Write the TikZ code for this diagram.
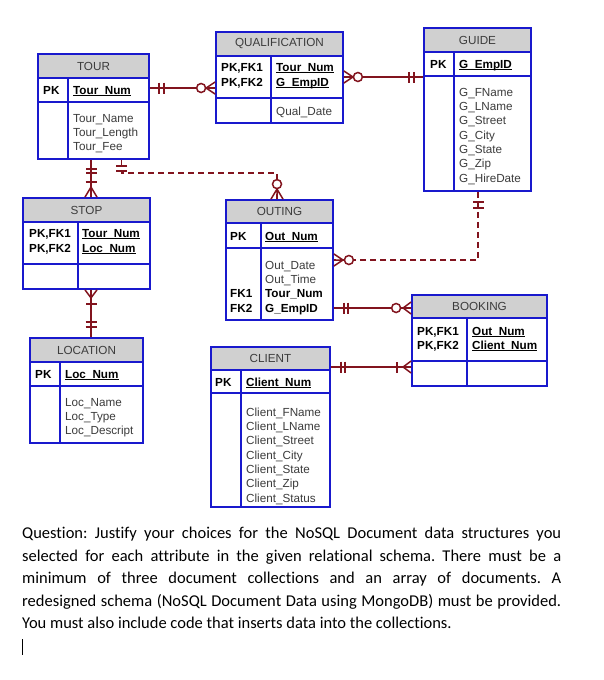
\documentclass[tikz,border=0pt]{standalone}
\usepackage{fontspec}
\newfontfamily\arialf{Liberation Sans}
\newfontfamily\calf[Ligatures=NoCommon]{Carlito}
\definecolor{entblue}{RGB}{25,25,205}
\definecolor{relred}{RGB}{130,20,30}
\definecolor{hdrgray}{RGB}{208,208,208}
\definecolor{attgray}{RGB}{60,60,60}
\newcommand\keyul[1]{\setbox0\hbox{#1}\rlap{\rule[-2.1pt]{\wd0}{0.9pt}}\box0}
\tikzset{
  entline/.style={draw=entblue, line width=1.8pt},
  entframe/.style={draw=entblue, line width=1.8pt, inner sep=0pt, rectangle},
  hdrfill/.style={fill=hdrgray},
  hdrtext/.style={inner sep=0pt, font=\arialf\fontsize{11.7}{14}\selectfont, text=attgray},
  keytext/.style={anchor=base west, inner sep=0pt, font=\arialf\bfseries\fontsize{11.7}{14}\selectfont},
  atttext/.style={anchor=base west, inner sep=0pt, font=\arialf\fontsize{11.7}{14}\selectfont, text=attgray},
  bodytext/.style={anchor=base west, inner sep=0pt, font=\calf\fontsize{16.5}{22}\selectfont\frenchspacing},
  rel/.style={draw=relred, line width=1.5pt},
  reldash/.style={rel, dash pattern=on 6pt off 4pt},
}
% entity: name, x1, y1, x2, y2, header bottom, key bottom, divider x, title
\newcommand\entbox[9]{%
  \fill[hdrfill] (#2,#3) rectangle (#4,#6);
  \draw[entline] (#2,#6) -- (#4,#6) (#2,#7) -- (#4,#7) (#8,#6) -- (#8,#5);
  \node[entframe, minimum width={#4pt-#2pt}, minimum height={#5pt-#3pt}] (#1) at ({(#2+#4)/2},{(#3+#5)/2}) {};
  \node[hdrtext] (#1-h) at ({(#2+#4)/2},{(#3+#6)/2}) {#9};
}
\newcommand\attlist[4]{% name, x, first baseline, list
  \foreach \t [count=\i] in {#4} {\node[atttext] (#1-a\i) at (#2,{#3+(\i-1)*14.3}) {\t};}
}
\newcommand\barsat[3]{%
  \begin{scope}[shift={#1}, rotate=#2]
    \foreach \d in {#3} {\draw[rel] (\d,-5.5) -- (\d,5.5);}
  \end{scope}}
\newcommand\crowat[3]{%
  \begin{scope}[shift={#1}, rotate=#2]
    \draw[rel] (0,-6) -- (#3,0) -- (0,6) (#3,0) -- (0,0);
  \end{scope}}
\newcommand\circat[3]{%
  \begin{scope}[shift={#1}, rotate=#2]
    \draw[rel, fill=white] (#3,0) circle (4.5);
  \end{scope}}
\begin{document}
\begin{tikzpicture}[x=1pt, y=-1pt]
\useasboundingbox (0,0) rectangle (604,680);
\fill[white] (0,0) rectangle (604,680);

% entities
\entbox{tour}{38}{54}{149}{159}{78}{102}{68}{TOUR}
\node[keytext] (tour-pk) at (43,94) {PK};
\node[keytext] (tour-k1) at (73,94) {\keyul{Tour\_Num}};
\attlist{tour}{73}{122}{Tour\_Name, Tour\_Length, Tour\_Fee}

\entbox{qual}{216}{32}{343}{123}{56}{98}{271}{QUALIFICATION}
\node[keytext] (qual-pk1) at (221,71) {PK,FK1};
\node[keytext] (qual-pk2) at (221,86) {PK,FK2};
\node[keytext] (qual-k1) at (276,71) {\keyul{Tour\_Num}};
\node[keytext] (qual-k2) at (276,86) {\keyul{G\_EmpID}};
\attlist{qual}{276}{115}{Qual\_Date}

\entbox{guide}{424}{28}{531}{191}{52}{76}{454}{GUIDE}
\node[keytext] (guide-pk) at (430,68) {PK};
\node[keytext] (guide-k1) at (459,68) {\keyul{G\_EmpID}};
\attlist{guide}{459}{96.2}{G\_FName, G\_LName, G\_Street, G\_City, G\_State, G\_Zip, G\_HireDate}

\entbox{stop}{23}{198}{150}{289}{222}{264}{78}{STOP}
\node[keytext] (stop-pk1) at (29,237) {PK,FK1};
\node[keytext] (stop-pk2) at (29,252) {PK,FK2};
\node[keytext] (stop-k1) at (82,237) {\keyul{Tour\_Num}};
\node[keytext] (stop-k2) at (82,252) {\keyul{Loc\_Num}};

\entbox{outing}{226}{200}{333}{320}{223}{248}{261}{OUTING}
\node[keytext] (outing-pk) at (230,240) {PK};
\node[keytext] (outing-k1) at (265,240) {\keyul{Out\_Num}};
\attlist{outing}{265}{269}{Out\_Date, Out\_Time}
\node[keytext] (outing-fk1) at (230,297.5) {FK1};
\node[keytext] (outing-fk2) at (230,312) {FK2};
\node[keytext] (outing-f1) at (265,297.5) {Tour\_Num};
\node[keytext] (outing-f2) at (265,312) {G\_EmpID};

\entbox{booking}{412}{295}{547}{386}{318}{361}{467}{BOOKING}
\node[keytext] (booking-pk1) at (417,335) {PK,FK1};
\node[keytext] (booking-pk2) at (417,349) {PK,FK2};
\node[keytext] (booking-k1) at (472,335) {\keyul{Out\_Num}};
\node[keytext] (booking-k2) at (472,349) {\keyul{Client\_Num}};

\entbox{location}{30}{338}{143}{443}{362}{386}{60}{LOCATION}
\node[keytext] (location-pk) at (35,378) {PK};
\node[keytext] (location-k1) at (65,378) {\keyul{Loc\_Num}};
\attlist{location}{65}{406}{Loc\_Name, Loc\_Type, Loc\_Descript}

\entbox{client}{211}{347}{330}{507}{370}{393}{241}{CLIENT}
\node[keytext] (client-pk) at (215,386) {PK};
\node[keytext] (client-k1) at (246,386) {\keyul{Client\_Num}};
\attlist{client}{246}{416.2}{Client\_FName, Client\_LName, Client\_Street, Client\_City, Client\_State, Client\_Zip, Client\_Status}

% connectors
\coordinate (tobend) at (121.5,173);
\draw[rel] (tour.east |- 0,88) -- (qual.west |- 0,88);
\draw[rel] (qual.east |- 0,77) -- (guide.west |- 0,77);
\draw[reldash] (guide.south -| 478,0) |- (outing.east |- 0,260);
\draw[rel] (tour.south -| 91,0) -- (stop.north -| 91,0);
\draw[reldash] (tour.south -| tobend) -- (tobend) -| (outing.north -| 277,0);
\draw[rel] (outing.east |- 0,308) -- (booking.west |- 0,308);
\draw[rel] (client.east |- 0,367) -- (booking.west |- 0,367);
\draw[rel] (stop.south -| 91,0) -- (location.north -| 91,0);

% end marks
\barsat{(tour.east |- 0,88)}{0}{9,14}
\crowat{(qual.west |- 0,88)}{180}{9}
\circat{(qual.west |- 0,88)}{180}{14}

\crowat{(qual.east |- 0,77)}{0}{9}
\circat{(qual.east |- 0,77)}{0}{14}
\barsat{(guide.west |- 0,77)}{180}{9,14}

\barsat{(guide.south -| 478,0)}{-90}{10,16}
\crowat{(outing.east |- 0,260)}{0}{9}
\circat{(outing.east |- 0,260)}{0}{15}

\barsat{(tour.south -| 91,0)}{-90}{9,13}
\barsat{(stop.north -| 91,0)}{90}{15}
\crowat{(stop.north -| 91,0)}{90}{10}

\barsat{(tour.south -| tobend)}{-90}{6,11}
\crowat{(outing.north -| 277,0)}{90}{10}
\circat{(outing.north -| 277,0)}{90}{15}

\barsat{(outing.east |- 0,308)}{0}{10,14}
\crowat{(booking.west |- 0,308)}{180}{8}
\circat{(booking.west |- 0,308)}{180}{15}

\barsat{(client.east |- 0,367)}{0}{10,14}
\barsat{(booking.west |- 0,367)}{180}{14}
\crowat{(booking.west |- 0,367)}{180}{8}

\crowat{(stop.south -| 91,0)}{-90}{8}
\barsat{(stop.south -| 91,0)}{-90}{14}
\barsat{(location.north -| 91,0)}{90}{10,15}

% question text
\node[bodytext] (q1) at (22,538.5) {\makebox[539pt][s]{Question: Justify your choices for the NoSQL Document data structures you}};
\node[bodytext] (q2) at (22,561) {\makebox[539pt][s]{selected for each attribute in the given relational schema. There must be a}};
\node[bodytext] (q3) at (22,583.5) {\makebox[539pt][s]{minimum of three document collections and an array of documents. A}};
\node[bodytext] (q4) at (22,606) {\makebox[539pt][s]{redesigned schema (NoSQL Document Data using MongoDB) must be provided.}};
\node[bodytext] (q5) at (22,628.5) {You must also include code that inserts data into the collections.};
\draw[line width=1pt] (22,639) -- (22,655);
\end{tikzpicture}
\end{document}
